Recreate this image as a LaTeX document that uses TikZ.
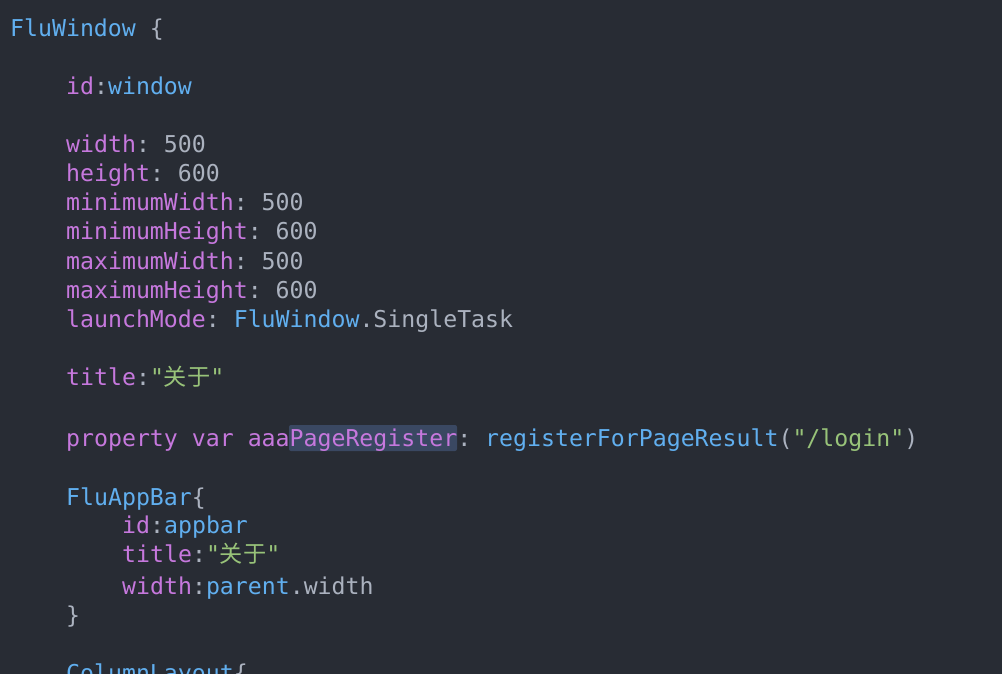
\documentclass[tikz,border=0pt]{standalone}
\usepackage{fontspec}
\setmonofont{DejaVu Sans Mono}
\newfontfamily\cjk{Noto Sans CJK SC}
\definecolor{bgc}{HTML}{282C34}
\definecolor{kblue}{HTML}{61AFEF}
\definecolor{kpur}{HTML}{C678DD}
\definecolor{kgr}{HTML}{98C379}
\definecolor{ktx}{HTML}{ABB2BF}
\definecolor{hl}{HTML}{3A4862}
\newcommand{\kb}[1]{\textcolor{kblue}{#1}}
\newcommand{\kp}[1]{\textcolor{kpur}{#1}}
\newcommand{\kg}[1]{\textcolor{kgr}{#1}}
\newcommand{\kt}[1]{\textcolor{ktx}{#1}}
\begin{document}
\begin{tikzpicture}[x=1pt,y=-1pt,
  code/.style={anchor=base west,inner sep=0pt,font=\ttfamily\fontsize{23.2}{23.2}\selectfont,text=ktx}]
\fill[bgc] (0,0) rectangle (1002,674);
\useasboundingbox (0,0) rectangle (1002,674);
\fill[hl,rounded corners=2pt] (289,425) rectangle (457,451);
\node[code] (l0) at (10,37) {\kb{FluWindow} \kt{\{}};
\node[code] (l2) at (66,95) {\kp{id}\kt{:}\kb{window}};
\node[code] (l4) at (66,153) {\kp{width}\kt{: 500}};
\node[code] (l5) at (66,182) {\kp{height}\kt{: 600}};
\node[code] (l6) at (66,211) {\kp{minimumWidth}\kt{: 500}};
\node[code] (l7) at (66,240) {\kp{minimumHeight}\kt{: 600}};
\node[code] (l8) at (66,269) {\kp{maximumWidth}\kt{: 500}};
\node[code] (l9) at (66,298) {\kp{maximumHeight}\kt{: 600}};
\node[code] (l10) at (66,327) {\kp{launchMode}\kt{: }\kb{FluWindow}\kt{.SingleTask}};
\node[code] (l12) at (66,385) {\kp{title}\kt{:}\kg{"{\cjk 关于}"}};
\node[code] (l14) at (66,446) {\kp{property var aaaPageRegister}\kt{: }\kb{registerForPageResult}\kt{(}\kg{"/login"}\kt{)}};
\node[code] (l16) at (66,505) {\kb{FluAppBar}\kt{\{}};
\node[code] (l17) at (122,533) {\kp{id}\kt{:}\kb{appbar}};
\node[code] (l18) at (122,562) {\kp{title}\kt{:}\kg{"{\cjk 关于}"}};
\node[code] (l19) at (122,594) {\kp{width}\kt{:}\kb{parent}\kt{.width}};
\node[code] (l20) at (66,623) {\kt{\}}};
\node[code] (l22) at (66,681) {\kb{ColumnLayout}\kt{\{}};
\end{tikzpicture}
\end{document}
